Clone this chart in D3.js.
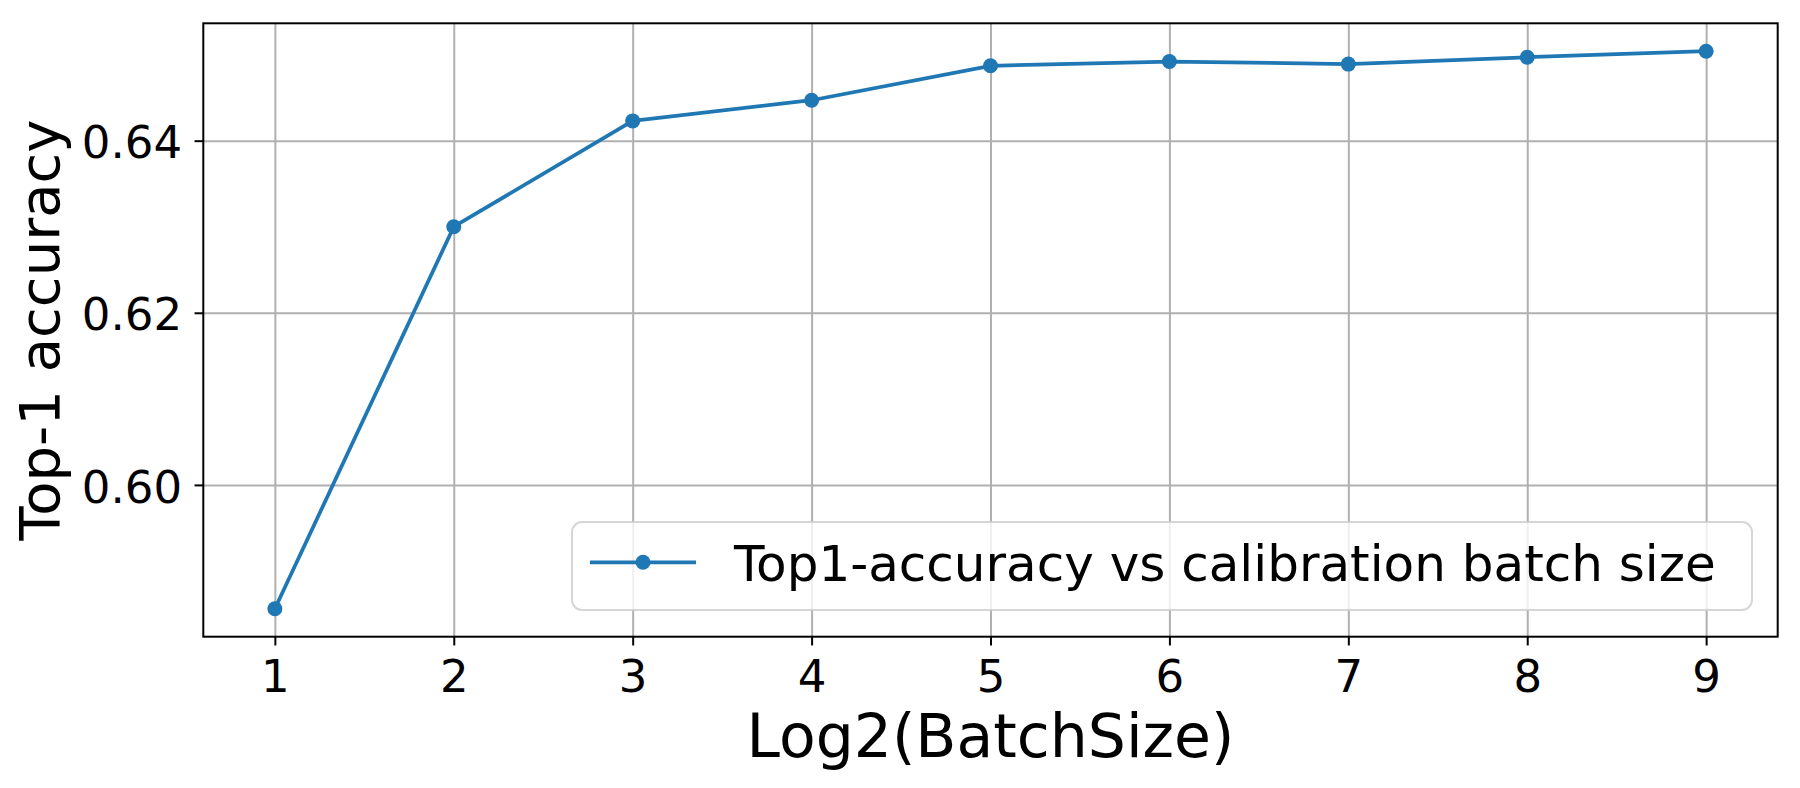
<!DOCTYPE html>
<html>
<head>
<meta charset="utf-8">
<script src="https://cdn.jsdelivr.net/npm/d3@7"></script>
<style>
  body { margin: 0; background: #fff; }
  svg { display: block; font-family: "DejaVu Sans", sans-serif; }
</style>
</head>
<body>
<div id="chart"></div>
<script>
// values
var batchLog2 = [1, 2, 3, 4, 5, 6, 7, 8, 9],
	accuracy = [0.5856, 0.6300, 0.6423, 0.6447, 0.6487, 0.6492, 0.6489, 0.6497, 0.6504],
	xTicks = [1, 2, 3, 4, 5, 6, 7, 8, 9],
	yTicks = [0.60, 0.62, 0.64],
	seriesName = "Top1-accuracy vs calibration batch size";

var width = 1800,
	height = 788,
	plotLeft = 203.3,
	plotRight = 1777.7,
	plotTop = 23.3,
	plotBottom = 636.7,
	blue = "#1f77b4";

// matplotlib style 5% margins
var xmin = d3.min(batchLog2), xmax = d3.max(batchLog2),
	ymin = d3.min(accuracy), ymax = d3.max(accuracy),
	xm = (xmax - xmin) * 0.05, ym = (ymax - ymin) * 0.05;

var x = d3.scaleLinear().domain([xmin - xm, xmax + xm]).range([plotLeft, plotRight]),
	y = d3.scaleLinear().domain([ymin - ym, ymax + ym]).range([plotBottom, plotTop]);

var svg = d3.select("#chart")
	.append("svg")
	.attr("width", width)
	.attr("height", height);

svg.append("rect").attr("width", width).attr("height", height).attr("fill", "#fff");

// grid
svg.append("g")
	.attr("transform", "translate(0," + plotBottom + ")")
	.call(d3.axisBottom(x).tickValues(xTicks).tickSize(-(plotBottom - plotTop)).tickFormat(""))
	.call(function(g){
		g.select(".domain").remove();
		g.selectAll("line").attr("stroke", "#b0b0b0").attr("stroke-width", 2);
	});
svg.append("g")
	.attr("transform", "translate(" + plotLeft + ",0)")
	.call(d3.axisLeft(y).tickValues(yTicks).tickSize(-(plotRight - plotLeft)).tickFormat(""))
	.call(function(g){
		g.select(".domain").remove();
		g.selectAll("line").attr("stroke", "#b0b0b0").attr("stroke-width", 2);
	});

// the series
var line = d3.line()
	.x(function(d, i){ return x(batchLog2[i]); })
	.y(function(d){ return y(d); });

svg.append("path")
	.datum(accuracy)
	.attr("fill", "none")
	.attr("stroke", blue)
	.attr("stroke-width", 3.75)
	.attr("stroke-linejoin", "round")
	.attr("d", line);

svg.selectAll("circle.pt")
	.data(accuracy)
	.enter()
	.append("circle")
	.attr("class", "pt")
	.attr("cx", function(d, i){ return x(batchLog2[i]); })
	.attr("cy", function(d){ return y(d); })
	.attr("r", 7.5)
	.attr("fill", blue);

// frame
svg.append("rect")
	.attr("x", plotLeft).attr("y", plotTop)
	.attr("width", plotRight - plotLeft).attr("height", plotBottom - plotTop)
	.attr("fill", "none").attr("stroke", "#000").attr("stroke-width", 2);

// axes
var xAxis = svg.append("g")
	.attr("transform", "translate(0," + plotBottom + ")")
	.call(d3.axisBottom(x).tickValues(xTicks).tickSize(8.75).tickSizeOuter(0).tickPadding(14.9).tickFormat(d3.format("d")));
var yAxis = svg.append("g")
	.attr("transform", "translate(" + plotLeft + ",0)")
	.call(d3.axisLeft(y).tickValues(yTicks).tickSize(8.75).tickSizeOuter(0).tickPadding(12.5).tickFormat(d3.format(".2f")));

[xAxis, yAxis].forEach(function(g){
	g.select(".domain").remove();
	g.selectAll("line").attr("stroke", "#000").attr("stroke-width", 2);
	g.selectAll("text")
		.attr("fill", "#000")
		.style("font-family", "DejaVu Sans")
		.style("font-size", "45px");
});
yAxis.selectAll("text").attr("dy", "0.38em");

svg.append("text")
	.attr("x", (plotLeft + plotRight) / 2)
	.attr("y", 757)
	.attr("text-anchor", "middle")
	.style("font-size", "60px")
	.text("Log2(BatchSize)");

svg.append("text")
	.attr("transform", "translate(59," + ((plotTop + plotBottom) / 2) + ") rotate(-90)")
	.attr("text-anchor", "middle")
	.style("font-size", "56px")
	.text("Top-1 accuracy");

// legend, lower right
var legend = svg.append("g");
legend.append("rect")
	.attr("x", 572).attr("y", 522)
	.attr("width", 1752 - 572).attr("height", 610 - 522)
	.attr("rx", 10).attr("ry", 10)
	.attr("fill", "#fff").attr("fill-opacity", 0.8)
	.attr("stroke", "#cccccc").attr("stroke-opacity", 0.8).attr("stroke-width", 2);
legend.append("line")
	.attr("x1", 590).attr("x2", 696)
	.attr("y1", 562.3).attr("y2", 562.3)
	.attr("stroke", blue).attr("stroke-width", 3.75);
legend.append("circle")
	.attr("cx", 643).attr("cy", 562.3).attr("r", 7.5)
	.attr("fill", blue);
legend.append("text")
	.attr("x", 734)
	.attr("y", 580.7)
	.style("font-size", "50px")
	.text(seriesName);
</script>
</body>
</html>
